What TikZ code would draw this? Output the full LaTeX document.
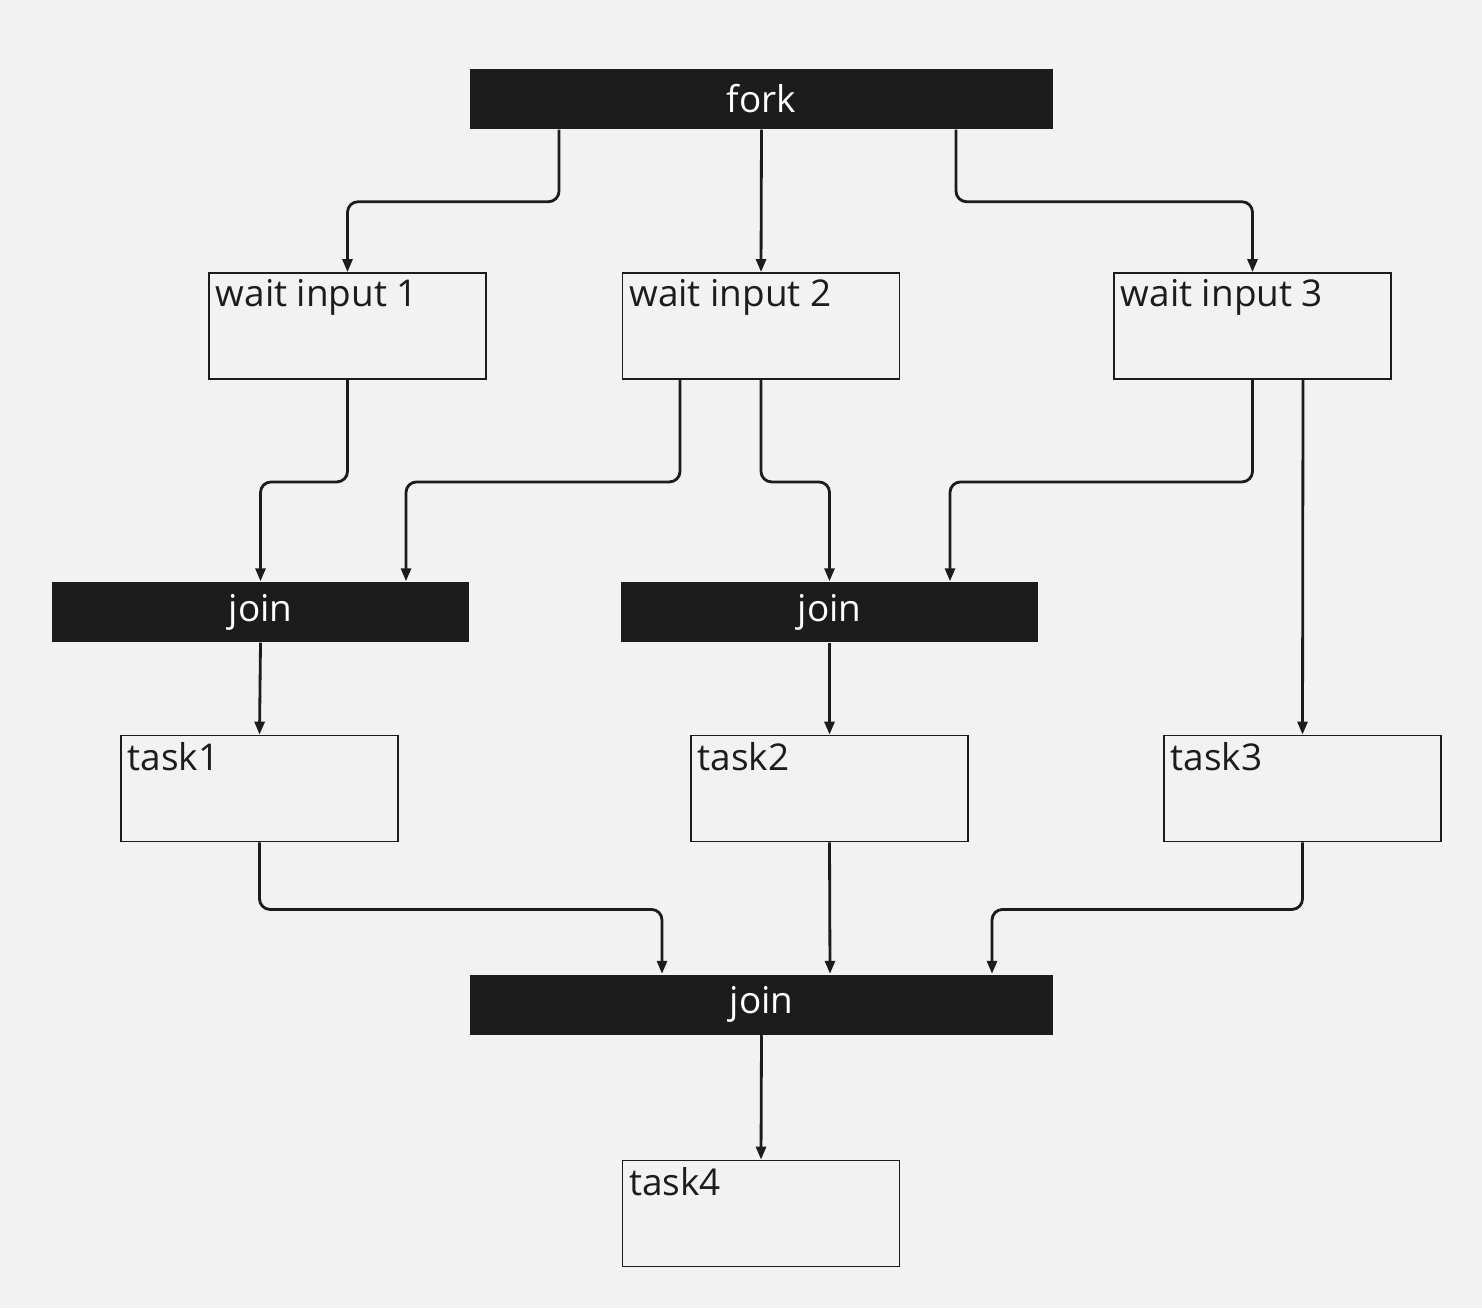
\documentclass[tikz,border=0pt]{standalone}
\usepackage{fontspec}
\setmainfont{Open Sans}
\usetikzlibrary{arrows.meta,calc}
\definecolor{bg}{HTML}{F2F2F2}
\definecolor{bar}{HTML}{1C1C1C}
\begin{document}
\begin{tikzpicture}[x=0.01cm,y=-0.01cm,
    bar/.style={fill=bar,text=white,minimum width=5.83cm,minimum height=0.6cm,inner sep=0pt,font=\fontsize{10.5}{12}\selectfont},
    task/.style={draw=bar,line width=0.5pt,minimum width=2.77cm,minimum height=1.06cm,inner sep=0pt,
      label={[anchor=north west,inner sep=2pt,font=\fontsize{10.5}{12}\selectfont,text=bar]north west:#1}},
    conn/.style={draw=bar,line width=0.8pt,rounded corners=3pt,-{Triangle[length=0.13cm,width=0.1cm]}}]
  \fill[bg] (0,0) rectangle (1482,1308);
  % bars
  \node[bar] (fork) at (761.5,99) {fork};
  \node[bar,minimum width=4.17cm] (joinA) at (260.5,612) {join};
  \node[bar,minimum width=4.17cm] (joinB) at (829.5,612) {join};
  \node[bar] (joinC) at (761.5,1004.5) {join};
  % boxes
  \node[task=wait input 1] (wait1) at (347.5,326) {};
  \node[task=wait input 2] (wait2) at (761,326) {};
  \node[task=wait input 3] (wait3) at (1252.5,326) {};
  \node[task=task1] (task1) at (259.5,788.5) {};
  \node[task=task2] (task2) at (829.5,788.5) {};
  \node[task=task3] (task3) at (1302.5,788.5) {};
  \node[task=task4] (task4) at (761,1213.5) {};
  % connectors
  \draw[conn] ($(fork.south)+(-202.5,0)$) -- ++(0,72) -| (wait1.north);
  \draw[conn] (fork.south) -- (wait2.north);
  \draw[conn] ($(fork.south)+(194.5,0)$) -- ++(0,72) -| (wait3.north);
  \draw[conn] (wait1.south) -- ++(0,102) -| (joinA.north);
  \draw[conn] ($(wait2.south)+(-81,0)$) -- ++(0,102) -| ($(joinA.north)+(145.5,0)$);
  \draw[conn] (wait2.south) -- ++(0,102) -| (joinB.north);
  \draw[conn] (wait3.south) -- ++(0,102) -| ($(joinB.north)+(120.5,0)$);
  \draw[conn] ($(wait3.south)+(50.5,0)$) -- (task3.north);
  \draw[conn] (joinA.south) -- (task1.north);
  \draw[conn] (joinB.south) -- (task2.north);
  \draw[conn] (task1.south) -- ++(0,67) -| ($(joinC.north)+(-99.5,0)$);
  \draw[conn] (task2.south) -- ($(joinC.north)+(68.5,0)$);
  \draw[conn] (task3.south) -- ++(0,67) -| ($(joinC.north)+(230.5,0)$);
  \draw[conn] (joinC.south) -- (task4.north);
\end{tikzpicture}
\end{document}
